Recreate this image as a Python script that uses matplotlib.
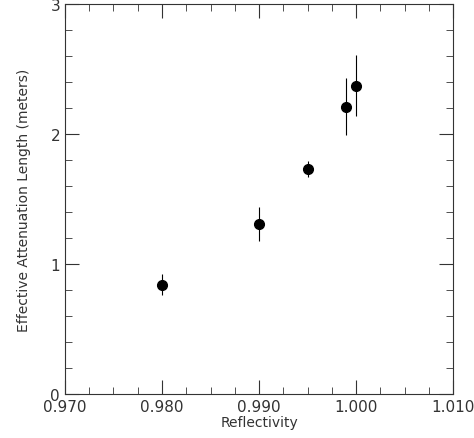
import matplotlib
matplotlib.use("Agg")
import matplotlib.pyplot as plt
from matplotlib.ticker import MultipleLocator, FormatStrFormatter

reflectivity = [0.980, 0.990, 0.995, 0.999, 1.000]
atten_len = [0.84, 1.31, 1.73, 2.21, 2.37]
err_lo = [0.08, 0.13, 0.06, 0.22, 0.23]
err_hi = [0.08, 0.13, 0.06, 0.22, 0.24]

fig = plt.figure(figsize=(4.74, 4.39), dpi=100)
ax = fig.add_axes([0.137, 0.100, 0.819, 0.889])
ax.errorbar(reflectivity, atten_len, yerr=[err_lo, err_hi], fmt="o", color="black",
            ms=7, elinewidth=0.8, capsize=0)
ax.set_xlim(0.970, 1.010)
ax.set_ylim(0, 3)
ax.xaxis.set_major_locator(MultipleLocator(0.01))
ax.xaxis.set_minor_locator(MultipleLocator(0.0025))
ax.xaxis.set_major_formatter(FormatStrFormatter("%.3f"))
ax.yaxis.set_major_locator(MultipleLocator(1))
ax.yaxis.set_minor_locator(MultipleLocator(0.2))
ax.tick_params(which="both", direction="in", top=True, right=True, labelsize=11, colors="#333333")
ax.tick_params(which="major", length=10)
ax.tick_params(which="minor", length=5)
for s in ax.spines.values():
    s.set_color("#333333")
ax.set_xlabel("Reflectivity", fontsize=10, color="#333333", labelpad=1)
ax.set_ylabel("Effective Attenuation Length (meters)", fontsize=10, color="#333333", labelpad=14)
fig.savefig("out.png", dpi=100)
